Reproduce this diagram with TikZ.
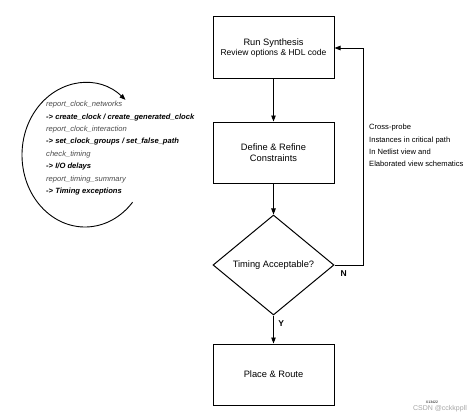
\documentclass[tikz,border=0pt]{standalone}
\usepackage{fontspec}
\setmainfont{Liberation Sans}
\usetikzlibrary{positioning,shapes.geometric,arrows.meta}

\begin{document}
\begin{tikzpicture}[x=1pt,y=1pt,
box/.style={draw,line width=1pt,rectangle,minimum width=121pt,minimum height=61pt,align=center,font=\fontsize{9.3}{11.5}\selectfont},
decide/.style={draw,line width=1pt,diamond,minimum width=121pt,minimum height=100pt,inner sep=0pt,font=\fontsize{9.3}{11.5}\selectfont},
arr/.style={line width=0.9pt,-{Triangle[length=6pt,width=4.5pt]}},
note/.style={align=left,inner sep=0pt,font=\fontsize{7.6}{12.4}\selectfont}]
\useasboundingbox (0,0) rectangle (474,416);
% flow
\node (synth) [box,minimum height=62pt] at (273.5,368) {Run Synthesis\\[-1pt]{\fontsize{8.5}{10}\selectfont Review options \& HDL code}};
\node (constr) [box,below=42pt of synth] {Define \& Refine\\Constraints};
\node (accept) [decide,below=31pt of constr] {Timing Acceptable?};
\node (pnr) [box,below=28pt of accept] {Place \& Route};
\draw [arr] (synth) -- (constr);
\draw [arr] (constr) -- (accept);
\draw [arr] (accept) -- node [pos=0.3,right=1pt,font=\bfseries\fontsize{8.5}{10}\selectfont] {Y} (pnr);
\coordinate (turn) at ([xshift=29pt]accept.east);
\draw [arr] (accept.east) -- (turn) |- (synth.east);
\node [below right=5pt and 6pt of accept.east,inner sep=0pt,font=\bfseries\fontsize{8.5}{10}\selectfont] {N};
\node (probe) [note,anchor=north west] at (369,292) {Cross-probe\\Instances in critical path\\In Netlist view and\\Elaborated view schematics};
% constraint loop
\coordinate (loopc) at (85,261);
\draw [arr] ([shift={(-41:63 and 72)}]loopc) arc [start angle=-41,end angle=-310,x radius=63,y radius=72];
\node (cmds) [note,anchor=north west,font=\itshape\fontsize{7.6}{12.4}\selectfont] at (46,315) {%
\textcolor{black!70}{report\_clock\_networks}\\
\textbf{-> create\_clock / create\_generated\_clock}\\
\textcolor{black!70}{report\_clock\_interaction}\\
\textbf{-> set\_clock\_groups / set\_false\_path}\\
\textcolor{black!70}{check\_timing}\\
\textbf{-> I/O delays}\\
\textcolor{black!70}{report\_timing\_summary}\\
\textbf{-> Timing exceptions}};
% marks
\node (fig) [inner sep=0pt,font=\fontsize{3.5}{4}\selectfont] at (432,14) {X13422};
\node (wm) [inner sep=0pt,text=black!35,font=\fontsize{7}{8}\selectfont] at (440,7) {CSDN @cckkppll};
\end{tikzpicture}
\end{document}
